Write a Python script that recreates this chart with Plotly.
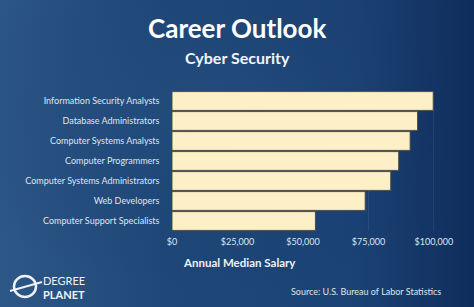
import base64
import plotly.graph_objects as go

categories = ["Information Security Analysts", "Database Administrators", "Computer Systems Analysts",
              "Computer Programmers", "Computer Systems Administrators", "Web Developers",
              "Computer Support Specialists"]
salaries = [99730, 93750, 90920, 86550, 83510, 73760, 54760]
tick_vals = [0, 25000, 50000, 75000, 100000]
tick_text = ["$0", "$25,000", "$50,000", "$75,000", "$100,000"]

W, H = 474, 307
L, R, T, B = 172, 27, 91, 76
pw, ph = W - L - R, H - T - B

svg = f'''<svg xmlns="http://www.w3.org/2000/svg" width="{W}" height="{H}">
<defs>
<linearGradient id="g" x1="0" y1="0" x2="1" y2="0">
<stop offset="0" stop-color="#2c5787"/>
<stop offset="0.35" stop-color="#1f4878"/>
<stop offset="0.75" stop-color="#1b4274"/>
<stop offset="1" stop-color="#0f2d5c"/>
</linearGradient>
<radialGradient id="r" cx="0.45" cy="0.35" r="0.6">
<stop offset="0" stop-color="#2f5a8c" stop-opacity="0.35"/>
<stop offset="1" stop-color="#0d2a58" stop-opacity="0.0"/>
</radialGradient>
</defs>
<rect width="{W}" height="{H}" fill="url(#g)"/>
<rect width="{W}" height="{H}" fill="url(#r)"/>
</svg>'''
bg_src = "data:image/svg+xml;base64," + base64.b64encode(svg.encode()).decode()


def px(x):
    return (x - L) / pw


def py(y):
    return 1 - (y - T) / ph


fig = go.Figure(go.Bar(
    x=salaries, y=categories, orientation="h",
    marker=dict(color="#fdf0c6", line=dict(color="rgba(70,70,70,0.9)", width=1)),
))

fig.update_layout(
    width=W, height=H,
    margin=dict(l=L, r=R, t=T, b=B),
    paper_bgcolor="#1f4878", plot_bgcolor="rgba(0,0,0,0)",
    bargap=0.06, showlegend=False,
    font=dict(family="Lato", color="#e6ebf3"),
    images=[dict(source=bg_src, xref="paper", yref="paper", x=px(0), y=py(0),
                 sizex=W / pw, sizey=H / ph, xanchor="left", yanchor="top",
                 sizing="stretch", layer="below")],
)
fig.update_xaxes(range=[0, 105000], tickvals=tick_vals, ticktext=tick_text,
                 showgrid=True, gridcolor="rgba(255,255,255,0.07)", gridwidth=1,
                 zeroline=False, showline=False, ticks="", ticklabelstandoff=4,
                 tickfont=dict(size=9, color="#dfe5ee"))
fig.update_yaxes(autorange="reversed", showgrid=False, zeroline=False, showline=False,
                 ticks="", ticksuffix="     ", tickfont=dict(size=9, color="#dfe5ee"))


def ann(text, x, y, size, color="#eef2f7", xanchor="center"):
    fig.add_annotation(text=text, x=px(x), y=py(y), xref="paper", yref="paper",
                       xanchor=xanchor, yanchor="middle", showarrow=False,
                       font=dict(size=size, color=color, family="Lato"))


ann("<b>Career Outlook</b>", 237, 28, 26, "#ffffff")
ann("<b>Cyber Security</b>", 237, 57, 16, "#f2f5f9")
ann("<b>Annual Median Salary</b>", 239, 262, 11.5)
ann("Source: U.S. Bureau of Labor Statistics", 443, 291, 9, "#dfe5ee", "right")
fig.add_annotation(text="DEGREE<br><b>PLANET</b>", x=px(41), y=py(287), xref="paper", yref="paper",
                   xanchor="left", yanchor="middle", align="left", showarrow=False,
                   font=dict(size=11, color="#eef2f7", family="Lato"))

fig.add_shape(type="circle", xref="paper", yref="paper",
              x0=px(14), x1=px(36), y0=py(297), y1=py(276),
              line=dict(color="#eef2f7", width=2.5))
fig.add_shape(type="line", xref="paper", yref="paper",
              x0=px(10), x1=px(42), y0=py(291), y1=py(282),
              line=dict(color="#eef2f7", width=2))

fig.write_html("out.html")
